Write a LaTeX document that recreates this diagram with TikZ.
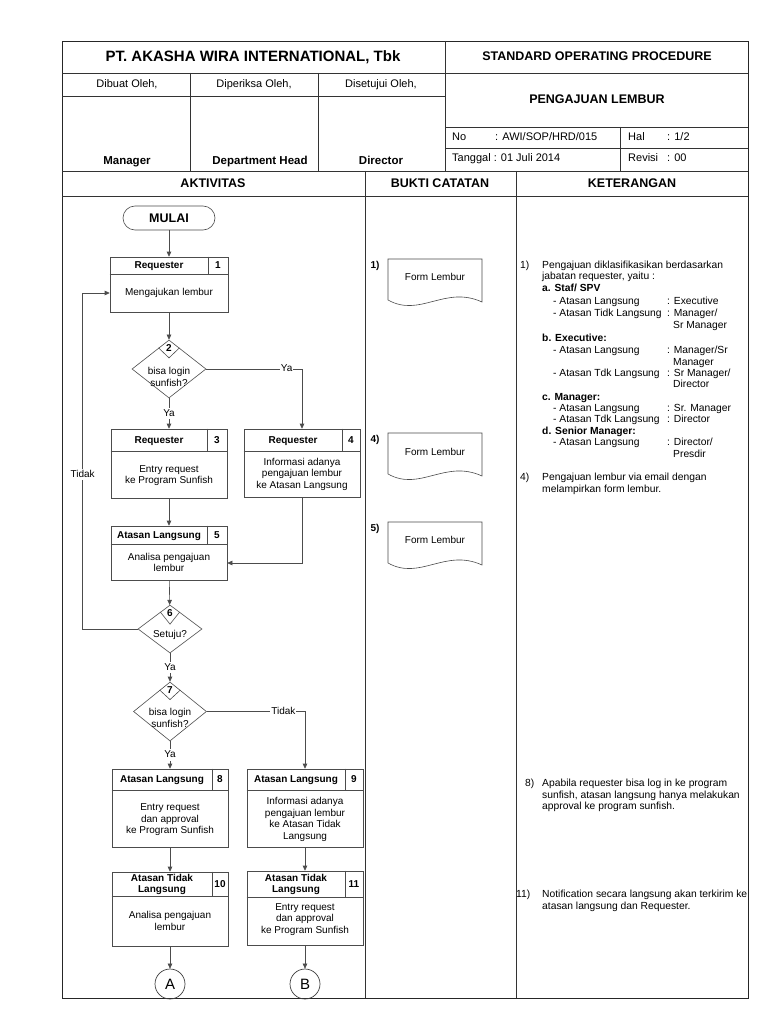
\documentclass[tikz,border=0pt]{standalone}
\usepackage{fontspec}
\setmainfont{Liberation Sans}
\usetikzlibrary{arrows.meta}
\usetikzlibrary{calc}
\usetikzlibrary{shapes.geometric}

\begin{document}
\begin{tikzpicture}[x=1pt,y=-1pt,
  frame/.style={draw=black!85,line width=0.9pt},
  cell/.style={draw=black!80,line width=0.7pt},
  thinline/.style={draw=black!70,line width=0.6pt},
  procbox/.style={draw=black!70,line width=0.6pt,inner sep=0,minimum width=116pt},
  decision/.style={diamond,draw=black!70,line width=0.6pt,inner sep=0},
  terminal/.style={draw=black!70,line width=0.6pt,rounded corners=12pt,minimum width=92pt,minimum height=24pt,font=\fontsize{12.5}{14}\selectfont\bfseries},
  connector/.style={circle,draw=black!75,line width=0.7pt,minimum size=30pt,inner sep=0,font=\fontsize{15}{15}\selectfont},
  arr/.style={draw=black!70,line width=0.6pt,-{Triangle[length=5pt,width=4.5pt]}},
  lbl/.style={fill=white,inner sep=1pt,text height=7.2pt,text depth=2pt,font=\fontsize{10}{11.5}\selectfont},
  btitle/.style={inner sep=0,text height=7.2pt,text depth=2pt,font=\fontsize{10}{11.5}\selectfont\bfseries},
  btwo/.style={inner sep=0,align=center,font=\fontsize{10}{11.5}\selectfont\bfseries},
  btext/.style={inner sep=0,align=center,font=\fontsize{10}{11.5}\selectfont},
  doctext/.style={inner sep=0,font=\fontsize{10}{11.5}\selectfont},
  htitle/.style={inner sep=0,font=\fontsize{15}{17}\selectfont\bfseries},
  hbold/.style={inner sep=0,font=\fontsize{12.5}{14}\selectfont\bfseries},
  hsmall/.style={inner sep=0,text height=8pt,text depth=2.3pt,font=\fontsize{11}{13}\selectfont},
  hsmallb/.style={inner sep=0,text height=8.3pt,text depth=2.4pt,font=\fontsize{11.5}{13}\selectfont\bfseries},
  ket/.style={anchor=west,inner sep=0,text height=7.4pt,text depth=2.1pt,font=\fontsize{10.3}{12}\selectfont}]
\useasboundingbox[fill=white] (0,0) rectangle (768,1024);

% frame and header table
\draw[frame] (62,41) rectangle (748,998);
\draw[cell] (62,73) -- (748,73) (62,96) -- (445,96) (445,127) -- (748,127) (445,148) -- (748,148)
  (62,171) -- (748,171) (62,196) -- (748,196);
\draw[cell] (445,41) -- (445,171) (190,73) -- (190,171) (318,73) -- (318,171) (620,127) -- (620,171)
  (365,171) -- (365,998) (516,171) -- (516,998);

\node[htitle] (company) at (253,57) {PT. AKASHA WIRA INTERNATIONAL, Tbk};
\node[hbold] (sop) at (597,56) {STANDARD OPERATING PROCEDURE};
\node[hbold] (judul) at (597,99) {PENGAJUAN LEMBUR};
\node[hsmall] (dibuat) at (127,85) {Dibuat Oleh,};
\node[hsmall] (diperiksa) at (254,85) {Diperiksa Oleh,};
\node[hsmall] (disetujui) at (381,85) {Disetujui Oleh,};
\node[hsmallb] (mgr) at (127,162) {Manager};
\node[hsmallb] (depthead) at (260,162) {Department Head};
\node[hsmallb] (dir) at (381,162) {Director};
\node[hsmall,anchor=west] (no) at (452,138) {No};
\node[hsmall,anchor=west] (nomor) at (495,138) {: AWI/SOP/HRD/015};
\node[hsmall,anchor=west] (hal) at (628,138) {Hal};
\node[hsmall,anchor=west] (halv) at (667,138) {: 1/2};
\node[hsmall,anchor=west] (tgl) at (452,159) {Tanggal : 01 Juli 2014};
\node[hsmall,anchor=west] (rev) at (628,159) {Revisi};
\node[hsmall,anchor=west] (revv) at (667,159) {: 00};
\node[hbold] (akt) at (213,183) {AKTIVITAS};
\node[hbold] (bukti) at (440,183) {BUKTI CATATAN};
\node[hbold] (ket) at (632,183) {KETERANGAN};

% flowchart
\node[terminal] (start) at (169,218) {MULAI};

\node[procbox,minimum width=118pt,minimum height=55pt] (b1) at (169,284.5) {};
\draw[thinline] ($(b1.north west)+(0,18)$) -- ($(b1.north east)+(0,18)$) ($(b1.north east)+(-20,0)$) -- ++(0,18);
\node[btitle] (b1t) at (159,266) {Requester};
\node[btitle] (b1n) at (218,266) {1};
\node[btext] (b1x) at (169,293) {Mengajukan lembur};

\node[decision,minimum width=74pt,minimum height=58pt] (d2) at (169,369) {};
\draw[thinline] ($(d2.north)!0.28!(d2.west)$) -- ($(d2.north)!0.31!(d2.south)$) -- ($(d2.north)!0.28!(d2.east)$);
\node[btitle] (d2n) at ($(d2.north)!0.155!(d2.south)$) {2};
\node[btext] (d2x) at (169,377) {bisa login\\sunfish?};

\node[procbox,minimum height=69pt] (b3) at (169,463.5) {};
\draw[thinline] ($(b3.north west)+(0,23)$) -- ($(b3.north east)+(0,23)$) ($(b3.north east)+(-20,0)$) -- ++(0,23);
\node[btitle] (b3t) at (159,440.5) {Requester};
\node[btitle] (b3n) at (217,440.5) {3};
\node[btext] (b3x) at (169,475.5) {Entry request\\ke Program Sunfish};

\node[procbox,minimum height=68pt] (b4) at (302,463) {};
\draw[thinline] ($(b4.north west)+(0,23)$) -- ($(b4.north east)+(0,23)$) ($(b4.north east)+(-18,0)$) -- ++(0,23);
\node[btitle] (b4t) at (293,440.5) {Requester};
\node[btitle] (b4n) at (351,440.5) {4};
\node[btext] (b4x) at (302,474) {Informasi adanya\\pengajuan lembur\\ke Atasan Langsung};

\node[procbox,minimum height=54pt] (b5) at (169,553) {};
\draw[thinline] ($(b5.north west)+(0,19)$) -- ($(b5.north east)+(0,19)$) ($(b5.north east)+(-20,0)$) -- ++(0,19);
\node[btitle] (b5t) at (159,535.5) {Atasan Langsung};
\node[btitle] (b5n) at (217,535.5) {5};
\node[btext] (b5x) at (169,562.5) {Analisa pengajuan\\lembur};

\node[decision,minimum width=64pt,minimum height=48pt] (d6) at (170,629) {};
\draw[thinline] ($(d6.north)!0.3!(d6.west)$) -- ($(d6.north)!0.4!(d6.south)$) -- ($(d6.north)!0.3!(d6.east)$);
\node[btitle] (d6n) at ($(d6.north)!0.19!(d6.south)$) {6};
\node[btext] (d6x) at (170,635) {Setuju?};

\node[decision,minimum width=73pt,minimum height=59pt] (d7) at (170,711.5) {};
\draw[thinline] ($(d7.north)!0.28!(d7.west)$) -- ($(d7.north)!0.3!(d7.south)$) -- ($(d7.north)!0.28!(d7.east)$);
\node[btitle] (d7n) at ($(d7.north)!0.15!(d7.south)$) {7};
\node[btext] (d7x) at (170,718) {bisa login\\sunfish?};

\node[procbox,minimum height=78pt] (b8) at (170,808) {};
\draw[thinline] ($(b8.north west)+(0,22)$) -- ($(b8.north east)+(0,22)$) ($(b8.north east)+(-16,0)$) -- ++(0,22);
\node[btitle] (b8t) at (162,780) {Atasan Langsung};
\node[btitle] (b8n) at (220,780) {8};
\node[btext] (b8x) at (170,820) {Entry request\\dan approval\\ke Program Sunfish};

\node[procbox,minimum height=78pt] (b9) at (305,808) {};
\draw[thinline] ($(b9.north west)+(0,22)$) -- ($(b9.north east)+(0,22)$) ($(b9.north east)+(-18,0)$) -- ++(0,22);
\node[btitle] (b9t) at (296,780) {Atasan Langsung};
\node[btitle] (b9n) at (354,780) {9};
\node[btext] (b9x) at (305,819.5) {Informasi adanya\\pengajuan lembur\\ke Atasan Tidak\\Langsung};

\node[procbox,minimum height=74pt] (b10) at (170,909) {};
\draw[thinline] ($(b10.north west)+(0,25)$) -- ($(b10.north east)+(0,25)$) ($(b10.north east)+(-16,0)$) -- ++(0,25);
\node[btwo] (b10t) at (162,884.5) {Atasan Tidak\\Langsung};
\node[btitle] (b10n) at (220,884.5) {10};
\node[btext] (b10x) at (170,921) {Analisa pengajuan\\lembur};

\node[procbox,minimum height=74pt] (b11) at (305,908) {};
\draw[thinline] ($(b11.north west)+(0,27)$) -- ($(b11.north east)+(0,27)$) ($(b11.north east)+(-18,0)$) -- ++(0,27);
\node[btwo] (b11t) at (296,884.5) {Atasan Tidak\\Langsung};
\node[btitle] (b11n) at (354,884.5) {11};
\node[btext] (b11x) at (305,919.5) {Entry request\\dan approval\\ke Program Sunfish};

\node[connector] (ca) at (170,984) {A};
\node[connector] (cb) at (305,984) {B};

% connectors
\draw[arr] (start) -- (b1);
\draw[arr] (b1) -- (d2);
\draw[arr] (d2) -- node[lbl]{Ya} (b3);
\draw[arr] (d2.east) -| node[lbl,pos=0.42]{Ya} (b4.north);
\draw[arr] (b3) -- (b5);
\draw[arr] (b4.south) |- ($(b5.east)+(0,10)$);
\draw[arr] (b5) -- (d6);
\draw[arr] (d6.west) -- ++(-55,0) |- node[lbl,pos=0.23]{Tidak} ($(b1.west)+(0,8.5)$);
\draw[arr] (d6) -- node[lbl]{Ya} (d7);
\draw[arr] (d7) -- node[lbl]{Ya} (b8);
\draw[arr] (d7.east) -| node[lbl,pos=0.39]{Tidak} (b9.north);
\draw[arr] (b8) -- (b10);
\draw[arr] (b9) -- (b11);
\draw[arr] (b10) -- (ca);
\draw[arr] (b11) -- (cb);

% bukti catatan
\node[btitle] (n1) at (375,266) {1)};
\node[doctext] (f1) at (435,277) {Form Lembur};
\draw[thinline] (388,300) -- (388,259) -- (482,259) -- (482,302) .. controls (445,285) and (420,318) .. (388,300);
\node[btitle] (n4) at (375,440) {4)};
\node[doctext] (f2) at (435,452) {Form Lembur};
\draw[thinline] (388,474) -- (388,433) -- (482,433) -- (482,476) .. controls (445,459) and (420,492) .. (388,474);
\node[btitle] (n5) at (375,529) {5)};
\node[doctext] (f3) at (435,540) {Form Lembur};
\draw[thinline] (388,563) -- (388,522) -- (482,522) -- (482,565) .. controls (445,548) and (420,581) .. (388,563);

% keterangan
\node[ket] (k1) at (520,266) {1)};
\foreach \xx/\yy/\txt [count=\i] in {542/266/{Pengajuan diklasifikasikan berdasarkan},
  542/277/{jabatan requester, yaitu :}, 542/289/{\textbf{a. Staf/ SPV}},
  553/302/{- Atasan Langsung}, 553/314/{- Atasan Tidk Langsung},
  542/339/{\textbf{b. Executive:}}, 553/351/{- Atasan Langsung}, 553/374/{- Atasan Tdk Langsung},
  542/398/{\textbf{c. Manager:}}, 553/409/{- Atasan Langsung}, 553/420/{- Atasan Tdk Langsung},
  542/432/{\textbf{d. Senior Manager:}}, 553/443/{- Atasan Langsung}}
  \node[ket] (ka\i) at (\xx,\yy) {\txt};
\foreach \xx/\yy/\txt [count=\i] in {667/302/{: Executive}, 667/314/{: Manager/}, 673/326/{Sr Manager},
  667/351/{: Manager/Sr}, 673/363/{Manager}, 667/374/{: Sr Manager/}, 673/385/{Director},
  667/409/{: Sr. Manager}, 667/420/{: Director}, 667/443/{: Director/}, 673/455/{Presdir}}
  \node[ket] (kb\i) at (\xx,\yy) {\txt};
\node[ket] (k4) at (520,478) {4)};
\node[ket] (k4a) at (542,478) {Pengajuan lembur via email dengan};
\node[ket] (k4b) at (542,490) {melampirkan form lembur.};
\node[ket] (k8) at (525,784) {8)};
\node[ket] (k8a) at (542,784) {Apabila requester bisa log in ke program};
\node[ket] (k8b) at (542,796) {sunfish, atasan langsung hanya melakukan};
\node[ket] (k8c) at (542,807) {approval ke program sunfish.};
\node[ket] (k11) at (516,895) {11)};
\node[ket] (k11a) at (542,895) {Notification secara langsung akan terkirim ke};
\node[ket] (k11b) at (542,907) {atasan langsung dan Requester.};
\end{tikzpicture}
\end{document}
